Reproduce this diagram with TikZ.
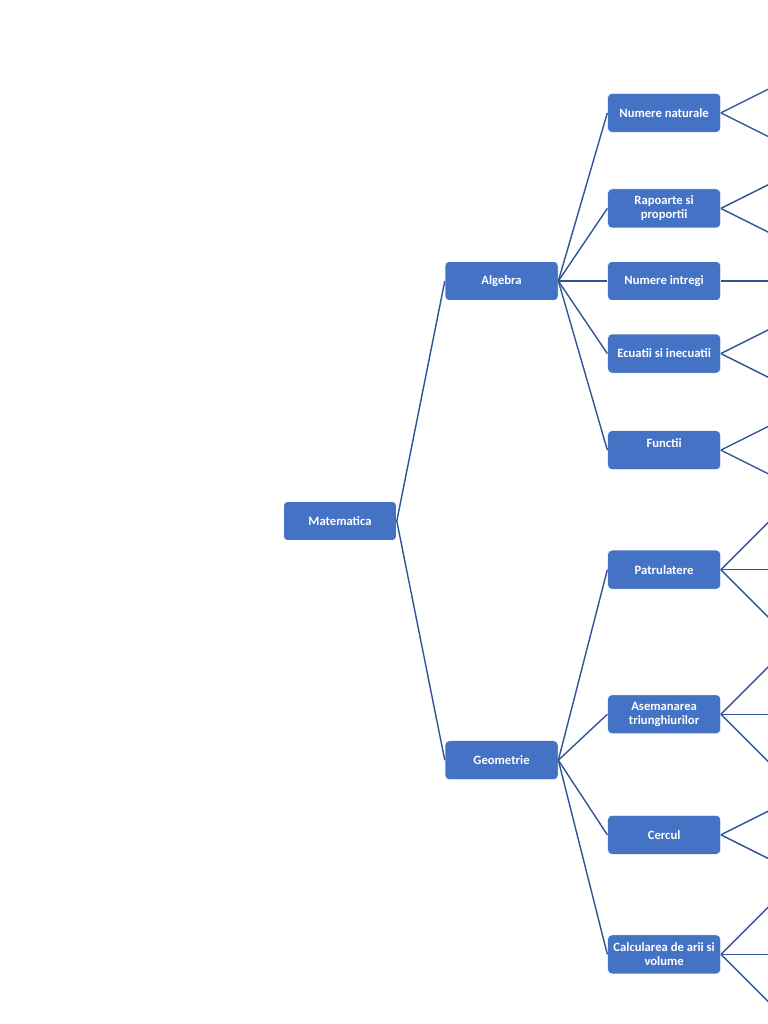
\documentclass[tikz,border=0pt]{standalone}
\usepackage{fontspec}
\setmainfont{Carlito}
\usepackage{xcolor}
\usepackage{tikz}
\usetikzlibrary{positioning,calc}
\definecolor{boxblue}{RGB}{68,114,196}
\definecolor{linkblue}{RGB}{47,85,151}

\begin{document}
\begin{tikzpicture}[
  font=\fontsize{9}{10}\selectfont\bfseries,
  topic/.style={draw=white, line width=0.4pt, rounded corners=3pt, fill=boxblue,
                text=white, minimum width=2.825cm, minimum height=0.975cm,
                inner sep=1pt, align=center},
  link/.style={draw=linkblue, line width=1pt}
]
\useasboundingbox (0,0) rectangle (19.2,-25.6);

% root and two branches
\node[topic] (mat) at (8.5,-13.025) {Matematica};
\node[topic, right=1.2 of mat, yshift=6cm] (alg) {Algebra};
\node[topic, right=1.2 of mat, yshift=-5.98cm] (geo) {Geometrie};

% algebra column
\node[topic, right=1.225 of alg] (intregi) {Numere intregi};
\node[topic, above=0.825 of intregi] (rap) {Rapoarte si\\proportii};
\node[topic, above=1.4 of rap] (numnat) {Numere naturale};
\node[topic, below=0.825 of intregi] (ecu) {Ecuatii si inecuatii};
\node[topic, below=1.425 of ecu] (fct) {Functii\\\mbox{}};

% geometrie column
\node[topic, below=2 of fct] (patr) {Patrulatere};
\node[topic, below=2.625 of patr] (asem) {Asemanarea\\triunghiurilor};
\node[topic, below=2.025 of asem] (cerc) {Cercul};
\node[topic, below=2 of cerc] (calc) {Calcularea de arii si\\volume};

\draw[link] (mat.east) -- (alg.west);
\draw[link] (mat.east) -- (geo.west);
\foreach \n in {numnat,rap,intregi,ecu,fct}
  \draw[link] (alg.east) -- (\n.west);
\foreach \n in {patr,asem,cerc,calc}
  \draw[link] (geo.east) -- (\n.west);

% stubs running off the page
\foreach \src/\dy [count=\i] in {numnat/0.6, numnat/-0.6, rap/0.6, rap/-0.6,
    intregi/0, ecu/0.6, ecu/-0.6, fct/0.6, fct/-0.6,
    patr/1.2, patr/0, patr/-1.2, asem/1.2, asem/0, asem/-1.2,
    cerc/0.6, cerc/-0.6, calc/1.2, calc/0, calc/-1.2} {
  \coordinate (leaf\i) at ([shift={(1.2,\dy)}]\src.east);
  \draw[link] (\src.east) -- (leaf\i);
}
\end{tikzpicture}
\end{document}
